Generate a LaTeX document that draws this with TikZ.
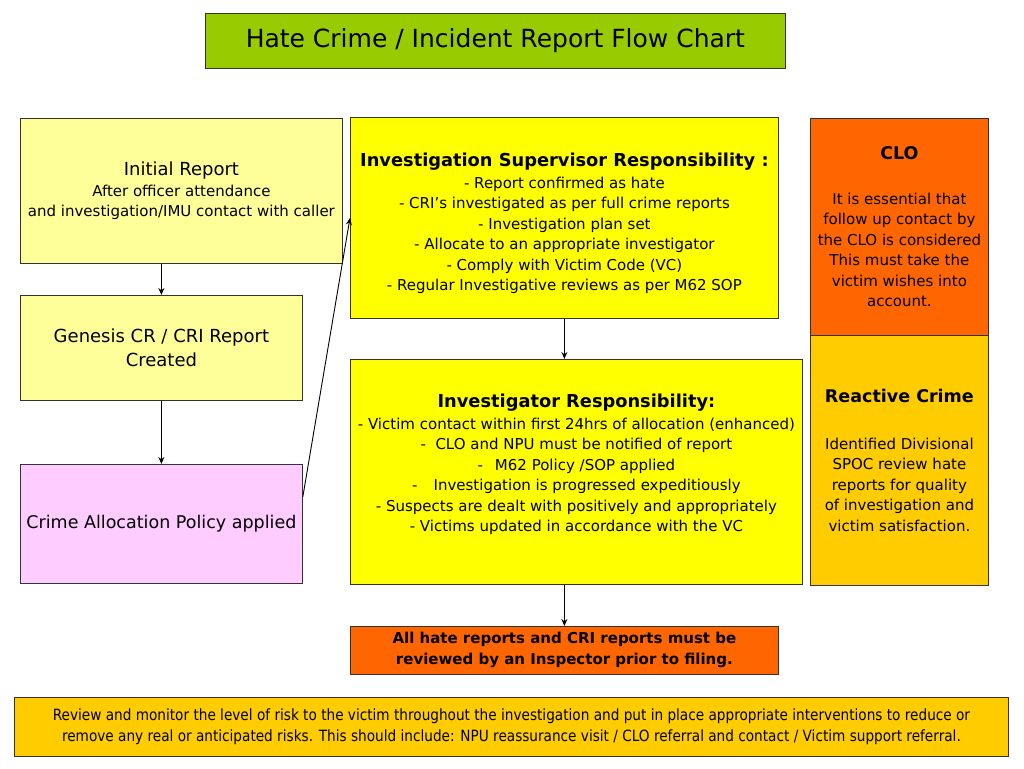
\documentclass[tikz,border=0pt]{standalone}
\usepackage{fontspec}
\setmainfont{DejaVu Sans}
\newfontfamily\narrowfont[FakeStretch=0.88]{DejaVu Sans}
\usetikzlibrary{positioning,shapes,arrows,arrows.meta}

\definecolor{titlegreen}{HTML}{99CC00}
\definecolor{paleyellow}{HTML}{FFFF99}
\definecolor{allocpink}{HTML}{FFCCFF}
\definecolor{brightyellow}{HTML}{FFFF00}
\definecolor{cloorange}{HTML}{FF6600}
\definecolor{reactivegold}{HTML}{FFCC00}

\newcommand{\boxhead}[1]{{\bfseries\fontsize{17.8}{21}\selectfont #1}}
\newcommand{\sidehead}[1]{{\bfseries\fontsize{17.5}{20}\selectfont #1}}

\tikzset{
  box/.style={draw=black!80, line width=0.8pt, anchor=north west, inner sep=0pt,
    align=center, font=\fontsize{15}{20.5}\selectfont},
  listtext/.style={inner sep=0pt, align=center, font=\fontsize{15}{20.5}\selectfont},
  link/.style={->, line width=0.9pt}
}

\begin{document}
\begin{tikzpicture}[x=1pt, y=-1pt, >={Stealth[length=7pt,width=6pt]}]
    \useasboundingbox (0,0) rectangle (1024,768);

    % title
    \node [box, fill=titlegreen, minimum width=580pt, minimum height=55pt,
      font=\fontsize{25}{30}\selectfont] (title) at (205,13)
      {Hate Crime / Incident Report Flow Chart};

    % left column
    \node [box, fill=paleyellow, minimum width=322pt, minimum height=145pt] (initial) at (20,118)
      {{\fontsize{18}{22}\selectfont Initial Report}\\ After officer attendance\\
       and investigation/IMU contact with caller};
    \node [box, fill=paleyellow, minimum width=282pt, minimum height=105pt,
      font=\fontsize{18}{24}\selectfont] (genesis) at (20,295)
      {Genesis CR / CRI Report\\ Created};
    \node [box, fill=allocpink, minimum width=282pt, minimum height=119pt,
      font=\fontsize{17.5}{22}\selectfont] (alloc) at (20,464)
      {Crime Allocation Policy applied};

    % middle column
    \node [box, fill=brightyellow, minimum width=428pt, minimum height=201pt] (superv) at (350,117) {};
    \node [listtext, below=36pt of superv.north] (superv-text)
      {\boxhead{Investigation Supervisor Responsibility :}\\[1pt]
       - Report confirmed as hate\\
       - CRI’s investigated as per full crime reports\\
       - Investigation plan set\\
       - Allocate to an appropriate investigator\\
       - Comply with Victim Code (VC)\\
       - Regular Investigative reviews as per M62 SOP};
    \node [box, fill=brightyellow, minimum width=452pt, minimum height=225pt] (invest) at (350,359) {};
    \node [listtext, below=35pt of invest.north] (invest-text)
      {\boxhead{Investigator Responsibility:}\\[1pt]
       - Victim contact within first 24hrs of allocation (enhanced)\\
       -\ \ CLO and NPU must be notified of report\\
       -\hspace{12pt}M62 Policy /SOP applied\\
       -\hspace{16pt}Investigation is progressed expeditiously\\
       - Suspects are dealt with positively and appropriately\\
       - Victims updated in accordance with the VC};
    \node [box, fill=cloorange, minimum width=428pt, minimum height=48pt,
      font=\bfseries\fontsize{15}{21}\selectfont] (review) at (350,626)
      {All hate reports and CRI reports must be\\ reviewed by an Inspector prior to filing.};

    % right column
    \node [box, fill=cloorange, minimum width=178pt, minimum height=217pt] (clo) at (810,118)
      {\sidehead{CLO}\\[24pt] It is essential that\\ follow up contact by\\ the CLO is considered\\
       This must take the\\ victim wishes into\\ account.};
    \node [box, fill=reactivegold, minimum width=178pt, minimum height=250pt] (reactive) at (810,335)
      {\sidehead{Reactive Crime}\\[26pt] Identified Divisional\\ SPOC review hate\\
       reports for quality\\ of investigation and\\ victim satisfaction.};

    % bottom
    \node [box, fill=reactivegold, minimum width=994pt, minimum height=59pt,
      font=\narrowfont\fontsize{15.5}{21}\selectfont] (risk) at (14,697)
      {Review and monitor the level of risk to the victim throughout the investigation and put in place appropriate interventions to reduce or\\
       remove any real or anticipated risks. This should include: NPU reassurance visit / CLO referral and contact / Victim support referral.};

    % connectors
    \draw [link] (initial.south -| genesis.north) -- (genesis.north);
    \draw [link] (genesis) -- (alloc);
    \draw [link] ([yshift=27pt]alloc.east) -- (superv.west);
    \draw [link] (superv.south) -- (superv.south |- invest.north);
    \draw [link] (invest.south -| review.north) -- (review.north);
\end{tikzpicture}
\end{document}
